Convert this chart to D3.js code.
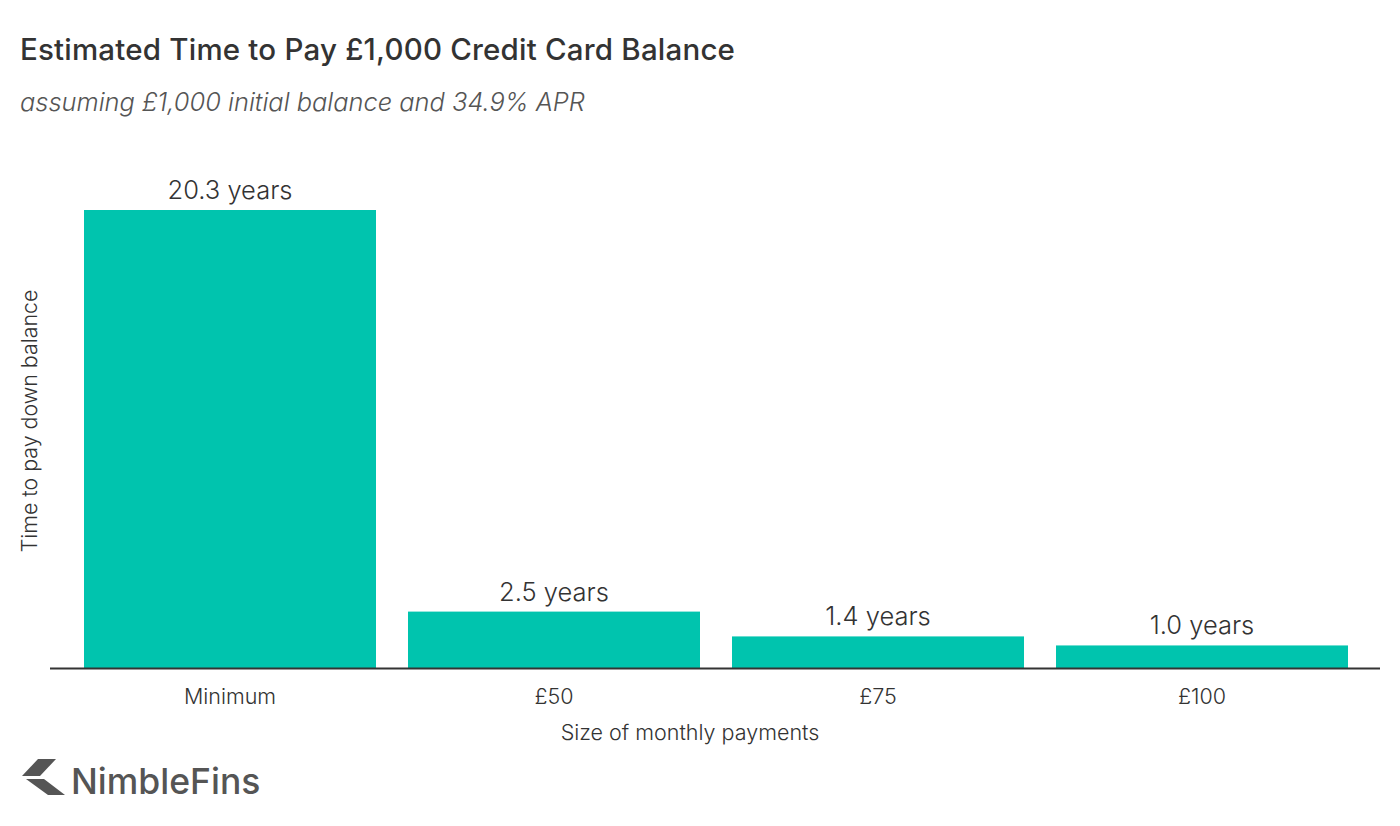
<!DOCTYPE html>
<html><head><meta charset="utf-8">
<script src="https://cdn.jsdelivr.net/npm/d3@7"></script>
<style>
body{margin:0;background:#fff;}
svg{display:block;font-family:Inter,"Noto Sans",Arial,sans-serif;}
</style></head>
<body><svg id="c" width="1400" height="826"></svg>
<script>
const categories = ["Minimum", "£50", "£75", "£100"];
const years = [20.3, 2.5, 1.4, 1.0];
const valueLabels = ["20.3 years", "2.5 years", "1.4 years", "1.0 years"];

const svg = d3.select("#c");
const baseY = 668, topY = 210;
const x = d3.scaleBand().domain(categories).range([68, 1364]).paddingInner(0.0988).paddingOuter(0.0494);
const y = d3.scaleLinear().domain([0, 20.3]).range([baseY, topY]);

svg.append("text").attr("x", 20).attr("y", 60).attr("font-size", 29.5).attr("font-weight", 500)
  .attr("letter-spacing", 0.2).attr("fill", "#333").text("Estimated Time to Pay £1,000 Credit Card Balance");
svg.append("text").attr("x", 20).attr("y", 111).attr("font-size", 25.4).attr("font-style", "italic")
  .attr("font-weight", 300).attr("fill", "#555").text("assuming £1,000 initial balance and 34.9% APR");

svg.selectAll("rect.bar").data(categories).join("rect").attr("class", "bar")
  .attr("x", d => x(d)).attr("width", x.bandwidth())
  .attr("y", (d, i) => y(years[i])).attr("height", (d, i) => baseY - y(years[i]))
  .attr("fill", "#00C4AE");

svg.selectAll("text.val").data(categories).join("text").attr("class", "val")
  .attr("x", d => x(d) + x.bandwidth() / 2).attr("y", (d, i) => y(years[i]) - 11)
  .attr("text-anchor", "middle").attr("font-size", 25.5).attr("font-weight", 300).attr("fill", "#333")
  .text((d, i) => valueLabels[i]);

const xAxis = svg.append("g").attr("transform", `translate(0,${baseY})`)
  .call(d3.axisBottom(x).tickSize(0).tickPadding(21));
xAxis.select(".domain").remove();
xAxis.selectAll("text").attr("font-size", 21.5).attr("font-weight", 300).attr("fill", "#333")
  .attr("font-family", "Inter,'Noto Sans',Arial,sans-serif");
svg.append("line").attr("x1", 50).attr("x2", 1380).attr("y1", baseY + 0.5).attr("y2", baseY + 0.5)
  .attr("stroke", "#333").attr("stroke-width", 2);

svg.append("text").attr("x", 690).attr("y", 740).attr("text-anchor", "middle").attr("font-size", 21.5)
  .attr("font-weight", 300).attr("fill", "#333").text("Size of monthly payments");
svg.append("text").attr("transform", "translate(37,421) rotate(-90)").attr("text-anchor", "middle")
  .attr("font-size", 21.4).attr("font-weight", 300).attr("fill", "#333").text("Time to pay down balance");

// logo
const lg = svg.append("g").attr("fill", "#555");
lg.append("path").attr("d", "M38,759 L56,759 L40,776 L22,776 Z");
lg.append("path").attr("d", "M26,779 L44,779 L65,795 L48,795 Z");
lg.append("text").attr("x", 71).attr("y", 794).attr("font-size", 35.5).attr("font-weight", 500)
  .attr("fill", "#555").text("NimbleFins");
</script></body></html>
